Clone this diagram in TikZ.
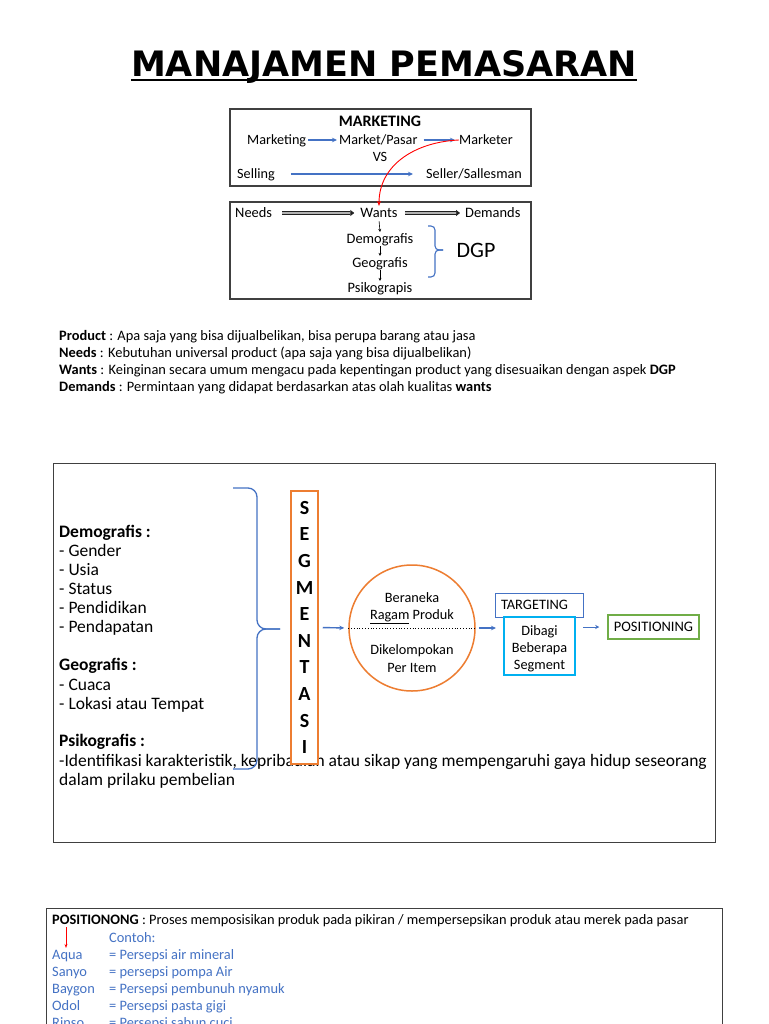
\documentclass[tikz,border=0pt]{standalone}
\usepackage{fontspec}
\setmainfont{Carlito}
\newfontfamily\titlefont{DejaVu Sans}
\usetikzlibrary{arrows.meta}
\definecolor{mblue}{HTML}{4472C4}
\definecolor{morange}{HTML}{ED7D31}
\definecolor{mcyan}{HTML}{00B0F0}
\definecolor{mgreen}{HTML}{70AD47}
\definecolor{mgray}{HTML}{404040}
\newcommand{\fsz}[2]{\fontsize{#1}{#2}\selectfont}
\begin{document}
\begin{tikzpicture}[x=1pt,y=-1pt,
  ts/.style={inner sep=0pt, font=\fsz{#1}{#1}, text height={0.8*#1pt}, text depth={0.156*#1pt}},
  bx/.style={draw=mgray, line width=1.2pt, inner sep=0pt},
  barrow/.style={mblue, line width=1.4pt, -{Stealth[length=5pt,width=4.5pt]}},
  karrow/.style={black, line width=0.6pt, -{Stealth[length=3pt,width=3pt]}},
  dbl/.style={draw=gray!25!black, double=gray!60, double distance=2pt, line width=0.7pt, -{Triangle[length=4pt,width=6pt]}},
  bt/.style={ts=14.4, anchor=west, text=mblue},
]
\fill[white] (0,0) rectangle (768,1024);
\useasboundingbox (0,0) rectangle (768,1024);

% title
\node[inner sep=0pt, anchor=base, font=\titlefont\bfseries\fsz{35}{40}] (title) at (384,77) {MANAJAMEN PEMASARAN};
\draw[line width=1.8pt] ([yshift=-3pt]title.base west) -- ([yshift=-3pt]title.base east);

% box 1
\node[bx, minimum width=301, minimum height=77] (box1) at (380.5,147.5) {};
\node[ts=16] (mkt) at (380,121) {\textbf{MARKETING}};
\node[ts=14.2, anchor=west] (mk) at (247,140) {Marketing};
\node[ts=14.2, anchor=west] (mp) at (339,140) {Market/Pasar};
\node[ts=14.2, anchor=west] (mkr) at (459,140) {Marketer};
\node[ts=14.2] (vs) at (380,157) {VS};
\node[ts=14.2, anchor=west] (sel) at (237,174) {Selling};
\node[ts=14.2, anchor=west] (sls) at (426,174) {Seller/Sallesman};
\draw[barrow, shorten <=2, shorten >=2] (mk.east) -- (mp.west);
\draw[barrow, shorten <=6, shorten >=4] (mp.east) -- (mkr.west);
\draw[barrow, shorten <=16, shorten >=13] (sel.east) -- (sls.west);

% box 2
\node[bx, minimum width=301, minimum height=97] (box2) at (380.5,250.5) {};
\node[ts=14.4, anchor=west] (needs) at (235,213) {Needs};
\node[ts=14.4] (wants) at (379,213) {Wants};
\node[ts=14.4, anchor=west] (dem) at (465,213) {Demands};
\node[ts=14.4] (demo) at (380,239) {Demografis};
\node[ts=14.4] (geo) at (380,263) {Geografis};
\node[ts=14.4] (psi) at (380,288) {Psikograpis};
\node[ts=22] (dgp) at (476,250) {DGP};
\draw[dbl, shorten <=10, shorten >=6] (needs.east) -- (wants.west);
\draw[dbl, shorten <=7, shorten >=5] (wants.east) -- (dem.west);
\draw[karrow, shorten <=1] (wants.south) -- (demo.north);
\draw[karrow] (demo.south) -- (geo.north);
\draw[karrow] (geo.south) -- (psi.north);
\draw[mblue, line width=1.1pt, rounded corners=4] (428,226) -- (435,226) -- (435,250) -- (443,250);
\draw[mblue, line width=1.1pt, rounded corners=4] (428,277) -- (435,277) -- (435,250) -- (443,250);
\draw[red, line width=0.9pt, -{Stealth[length=5pt,width=4pt]}] (mkr.west) .. controls (415,142) and (379,165) .. (wants.north);

% definitions
\begin{scope}[every node/.style={ts=14.4, anchor=west}]
\node (d1) at (59,336) {\textbf{Product} : Apa saja yang bisa dijualbelikan, bisa perupa barang atau jasa};
\node (d2) at (59,353) {\textbf{Needs} : Kebutuhan universal product (apa saja yang bisa dijualbelikan)};
\node (d3) at (59,370) {\textbf{Wants} : Keinginan secara umum mengacu pada kepentingan product yang disesuaikan dengan aspek \textbf{DGP}};
\node (d4) at (59,387) {\textbf{Demands} : Permintaan yang didapat berdasarkan atas olah kualitas \textbf{wants}};
\end{scope}

% big box
\node[bx, line width=1pt, minimum width=662, minimum height=379] (big) at (384,652.5) {};
\begin{scope}[every node/.style={ts=17.5, anchor=west}]
\node (l1) at (59,532) {\textbf{Demografis :}};
\node (l2) at (59,551) {- Gender};
\node (l3) at (59,570) {- Usia};
\node (l4) at (59,589) {- Status};
\node (l5) at (59,608) {- Pendidikan};
\node (l6) at (59,627) {- Pendapatan};
\node (l7) at (59,665) {\textbf{Geografis :}};
\node (l8) at (59,685) {- Cuaca};
\node (l9) at (59,704) {- Lokasi atau Tempat};
\node (l10) at (59,741) {\textbf{Psikografis :}};
\node (l11) at (59,761) {-Identifikasi karakteristik, kepribadian atau sikap yang mempengaruhi gaya hidup seseorang};
\node (l12) at (59,780) {dalam prilaku pembelian};
\end{scope}
\draw[mblue, line width=1.3pt, rounded corners=9] (233,488) -- (257,488) -- (257,629) -- (280,629);
\draw[mblue, line width=1.3pt, rounded corners=9] (233,769) -- (257,769) -- (257,629) -- (280,629);
\node[draw=morange, line width=1.5pt, fill=white, minimum width=27, minimum height=273, inner sep=0pt, align=center, font=\bfseries\fsz{20}{26.6}] (seg) at (304.5,627.5) {S\\E\\G\\M\\E\\N\\T\\A\\S\\I};

\node[circle, draw=morange, line width=1.5pt, minimum size=126, inner sep=0pt] (circ) at (412,628) {};
\node[align=center, inner sep=0pt, font=\fsz{14.3}{17}] (c1) at (412,608) {Beraneka\\\underline{Ragam} Produk};
\node[align=center, inner sep=0pt, font=\fsz{14.3}{18}] (c2) at (412,659) {Dikelompokan\\Per Item};
\draw[dotted, line width=0.8pt] (circ.west) -- (circ.east);
\draw[barrow, shorten <=4, shorten >=4] (seg.east) -- (circ.west);

\node[draw=mblue, line width=1pt, minimum width=88, minimum height=24, inner sep=0pt, text width=76, align=left, font=\fsz{14.4}{16}] (tgt) at (539,605) {TARGETING};
\node[draw=mcyan, line width=2pt, fill=white, minimum width=71, minimum height=58, inner sep=0pt] (dib) at (539.5,646) {};
\node[align=center, inner sep=0pt, font=\fsz{14.3}{17}] (dibt) at (539.5,648.5) {Dibagi\\Beberapa\\Segment};
\node[draw=mgreen, line width=1.5pt, minimum width=91, minimum height=24, inner sep=0pt, ts=14.5] (pos) at (653.5,627) {POSITIONING};
\draw[barrow, shorten <=3, shorten >=7] (circ.east) -- (dib.west |- circ.east);
\draw[mblue, line width=0.8pt, -{Stealth[length=4pt,width=4pt]}, shorten <=7, shorten >=8] (dib.east |- pos.west) -- (pos.west);

% bottom box
\node[bx, line width=1pt, minimum width=676, minimum height=130] (bot) at (384,973) {};
\node[ts=14.4, anchor=west] (pn) at (52,920) {\textbf{POSITIONONG} : Proses memposisikan produk pada pikiran / mempersepsikan produk atau merek pada pasar};
\node[bt] (contoh) at (109,938) {Contoh:};
\node[bt] (aqua) at (52,955) {Aqua};
\node[bt] (aquav) at (109,955) {= Persepsi air mineral};
\node[bt] (sanyo) at (52,972) {Sanyo};
\node[bt] (sanyov) at (109,972) {= persepsi pompa Air};
\node[bt] (baygon) at (52,989) {Baygon};
\node[bt] (baygonv) at (109,989) {= Persepsi pembunuh nyamuk};
\node[bt] (odol) at (52,1006) {Odol};
\node[bt] (odolv) at (109,1006) {= Persepsi pasta gigi};
\node[bt] (rinso) at (52,1023) {Rinso};
\node[bt] (rinsov) at (109,1023) {= Persepsi sabun cuci};
\draw[red, line width=0.8pt, -{Stealth[length=4pt,width=3pt]}] ([xshift=14pt]pn.south west) -- ([xshift=14pt]aqua.north west);
\end{tikzpicture}
\end{document}
